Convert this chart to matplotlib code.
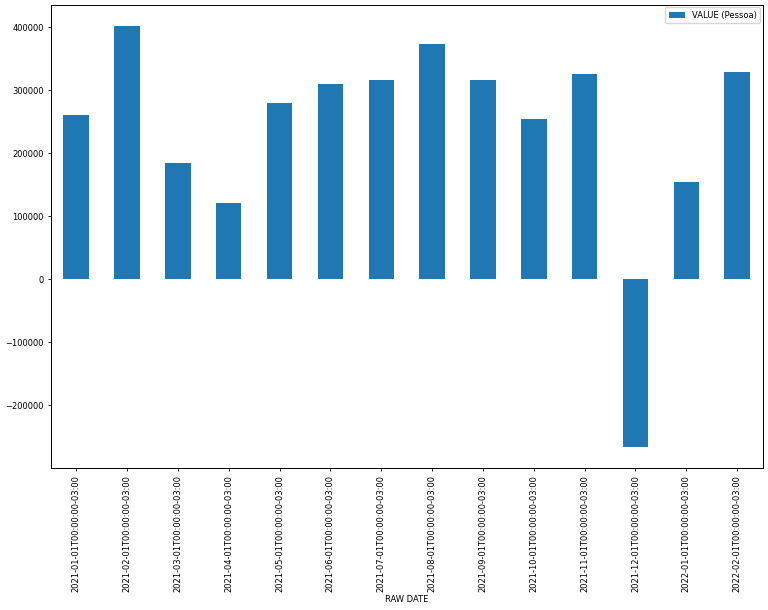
#!/usr/bin/env python3

import numpy as np
import matplotlib
matplotlib.use("Agg")
import matplotlib.pyplot as plt

dates = [
    "2021-01-01T00:00:00-03:00",
    "2021-02-01T00:00:00-03:00",
    "2021-03-01T00:00:00-03:00",
    "2021-04-01T00:00:00-03:00",
    "2021-05-01T00:00:00-03:00",
    "2021-06-01T00:00:00-03:00",
    "2021-07-01T00:00:00-03:00",
    "2021-08-01T00:00:00-03:00",
    "2021-09-01T00:00:00-03:00",
    "2021-10-01T00:00:00-03:00",
    "2021-11-01T00:00:00-03:00",
    "2021-12-01T00:00:00-03:00",
    "2022-01-01T00:00:00-03:00",
    "2022-02-01T00:00:00-03:00",
]
values = [
    260400, 402500, 184400, 121100, 280500, 310300, 317100,
    374000, 317000, 254000, 325700, -266100, 154600, 329400,
]
series_name = "VALUE (Pessoa)"
x_label = "RAW DATE"


def main():
    fs = 6
    fig = plt.figure(figsize=(7.68, 6.10), dpi=100)
    ax = fig.add_axes([0.066, 0.233, 0.927, 0.759])

    pos = np.arange(len(dates))
    ax.bar(pos, values, width=0.5, color="#1f77b4", label=series_name)
    ax.set_xlim(-0.5, len(dates) - 0.5)
    ax.set_xticks(pos)
    ax.set_xticklabels(dates, rotation=90, fontsize=fs)
    ax.tick_params(axis="both", labelsize=fs, length=2.5, width=0.6, pad=2.5)
    for sp in ax.spines.values():
        sp.set_linewidth(0.7)
    ax.set_xlabel(x_label, fontsize=fs, labelpad=2)
    ax.legend(loc="upper right", fontsize=fs, borderaxespad=0.3)

    fig.savefig("out.png", dpi=100)


if __name__ == "__main__":
    main()
